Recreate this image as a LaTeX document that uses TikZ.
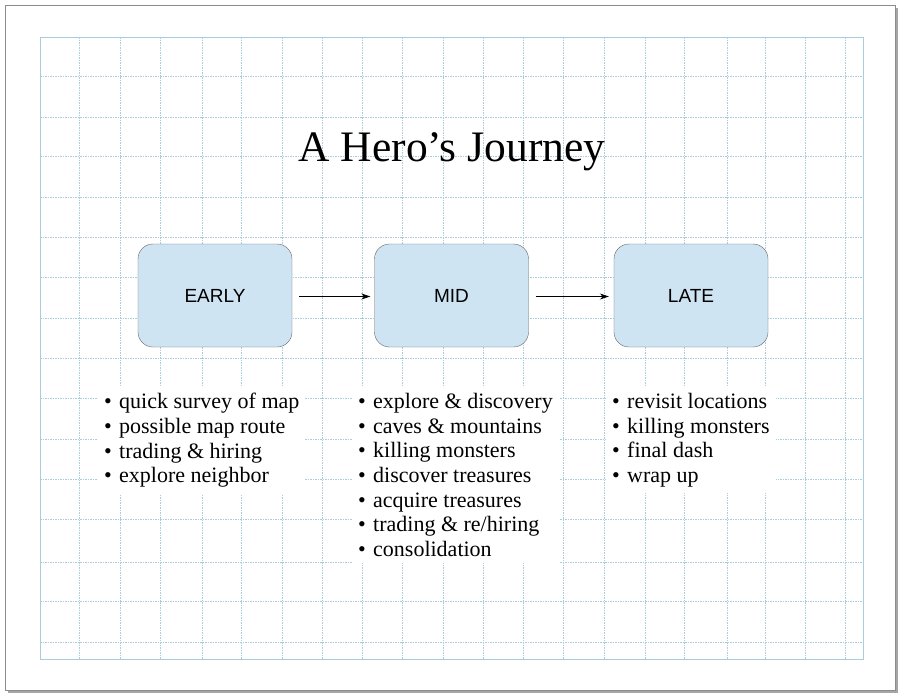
\documentclass[tikz,border=0pt]{standalone}
\usepackage{fontspec}
\setmainfont{Liberation Serif}
\newfontfamily\boxfont{Liberation Sans}
\usetikzlibrary{arrows.meta}
\definecolor{gridc}{RGB}{170,205,220}
\definecolor{boxfill}{RGB}{207,228,243}
\newcommand{\itm}{\makebox[15pt][l]{\textbullet}}
\tikzset{
  stage/.style={draw=black!60, fill=boxfill, rounded corners=15pt, minimum width=154pt, minimum height=103pt, font=\boxfont\fontsize{19}{22}\selectfont},
  flow/.style={-{Stealth[length=9pt,width=6pt]}, line width=0.8pt},
  lst/.style={fill=white, inner sep=6pt, align=left, anchor=north west, font=\fontsize{22}{24.7}\selectfont},
  gridln/.style={gridc, line width=0.7pt, dash pattern=on 1.5pt off 1pt}
}
\begin{document}
\begin{tikzpicture}[x=1pt,y=-1pt]
\useasboundingbox (0,0) rectangle (905,697);
\fill[black!35] (8,8) rectangle (898,693);
\fill[white, draw=black!45] (5,5) rectangle (895,690);
\foreach \x in {79,120,160,202,241,282,322,362,402,443,483,523,563,604,645,684,727,765,805,845}
  \draw[gridln] (\x,37) -- (\x,659);
\foreach \y in {76,117,156,197,237,277,318,358,398,439,479,519,562,601,642}
  \draw[gridln] (40,\y) -- (863,\y);
\draw[gridc, line width=0.8pt] (40,37) rectangle (863,659);
\node (title) at (452,152) {\fontsize{43.5}{46}\selectfont A Hero{\char"27}s Journey};
\node[stage] (early) at (215,295.5) {EARLY};
\node[stage] (mid) at (451.5,295.5) {MID};
\node[stage] (late) at (691,295.5) {LATE};
\draw[flow] ([xshift=7pt,yshift=-1pt]early.east) -- ([xshift=-4pt,yshift=-1pt]mid.west);
\draw[flow] ([xshift=7pt,yshift=-1pt]mid.east) -- ([xshift=-5pt,yshift=-1pt]late.west);
\node[lst] (l1) at (98,387) {\itm quick survey of map\\\itm possible map route\\\itm trading \& hiring\\\itm explore neighbor};
\node[lst] (l2) at (352,387) {\itm explore \& discovery\\\itm caves \& mountains\\\itm killing monsters\\\itm discover treasures\\\itm acquire treasures\\\itm trading \& re/hiring\\\itm consolidation};
\node[lst] (l3) at (606,387) {\itm revisit locations\\\itm killing monsters\\\itm final dash\\\itm wrap up};
\end{tikzpicture}
\end{document}
